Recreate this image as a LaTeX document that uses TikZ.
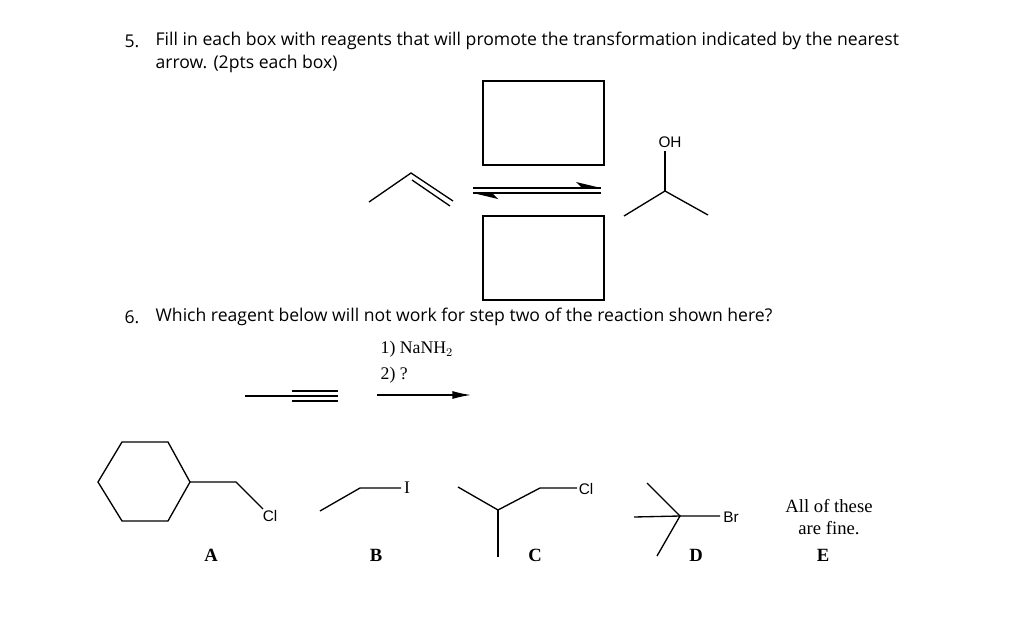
\documentclass[tikz,border=0pt]{standalone}
\usepackage{fontspec}
\usetikzlibrary{arrows.meta}
\setmainfont{Liberation Serif}
\newfontfamily\qfont{Open Sans}
\newfontfamily\labfont{Liberation Sans}
\begin{document}
\begin{tikzpicture}[x=0.75pt,y=-0.75pt,line width=1pt,
  q/.style={font=\qfont\fontsize{13.2pt}{15pt}\selectfont,anchor=west,inner sep=0},
  atomlbl/.style={font=\labfont\fontsize{11.5pt}{12pt}\selectfont,inner sep=0},
  tm/.style={font=\fontsize{13.3pt}{15pt}\selectfont,inner sep=0},
  lab/.style={font=\bfseries\fontsize{14pt}{16pt}\selectfont,inner sep=0}]
\useasboundingbox (0,0) rectangle (1018,636);
% Question 5
\node[q] (n5) at (124,41) {5.};
\node[q] (t5a) at (155,41) {Fill in each box with reagents that will promote the transformation indicated by the nearest};
\node[q] (t5b) at (155,64) {arrow. (2pts each box)};
\draw (483,81) rectangle (604,165);
\draw (483,216) rectangle (604,300);
% propene
\draw (369,202) -- (411,173) -- (453,201);
\draw (412,180) -- (450,206);
% equilibrium arrows
\draw (473,188) -- (601,188);
\fill (601,188) -- (576,182) -- (582,188) -- cycle;
\draw (473,193) -- (601,193);
\fill (473,193) -- (498,199) -- (492,193) -- cycle;
% isopropanol
\node[atomlbl] (oh) at (670,142) {OH};
\coordinate (c2) at (665,191);
\draw (665,151) -- (c2);
\draw (624,216) -- (c2) -- (708,215);
% Question 6
\node[q] (n6) at (124,317) {6.};
\node[q] (t6) at (155,317) {Which reagent below will not work for step two of the reaction shown here?};
\node[tm,anchor=west] (r1) at (380,349) {1) NaNH$_2$};
\node[tm,anchor=west] (r2) at (380,375) {2) ?};
\draw[-{Latex[length=14pt,width=6pt]}] (377,395) -- (471,395);
% alkyne
\draw (245,396) -- (292,396);
\draw (292,391) -- (338,391) (292,396) -- (338,396) (292,401) -- (338,401);
% A
\draw (98,482) -- (122,442) -- (168,442) -- (190,482) -- (168,521) -- (122,521) -- cycle;
\node[atomlbl] (cla) at (270,516) {Cl};
\draw (190,482) -- (236,482) -- (263,509);
% B
\node[tm] (ib) at (407,488) {I};
\draw (320,511) -- (360,488) -- (401,488);
% C
\node[atomlbl] (clc) at (586,489) {Cl};
\draw (458,487) -- (498,510) -- (540,488) -- (577,488);
\draw (498,510) -- (498,557);
% D
\node[atomlbl] (brd) at (731,517) {Br};
\draw (647,483) -- (680,516) -- (720,516);
\draw (634,517) -- (680,516) -- (657,556);
% E
\node[tm,font=\fontsize{14pt}{16pt}\selectfont] (e1) at (829,506) {All of these};
\node[tm,font=\fontsize{14pt}{16pt}\selectfont] (e2) at (829,528) {are fine.};
% labels
\node[lab] (la) at (211,555) {A};
\node[lab] (lb) at (376,555) {B};
\node[lab] (lc) at (535,555) {C};
\node[lab] (ld) at (696,555) {D};
\node[lab] (le) at (823,555) {E};
\end{tikzpicture}
\end{document}
